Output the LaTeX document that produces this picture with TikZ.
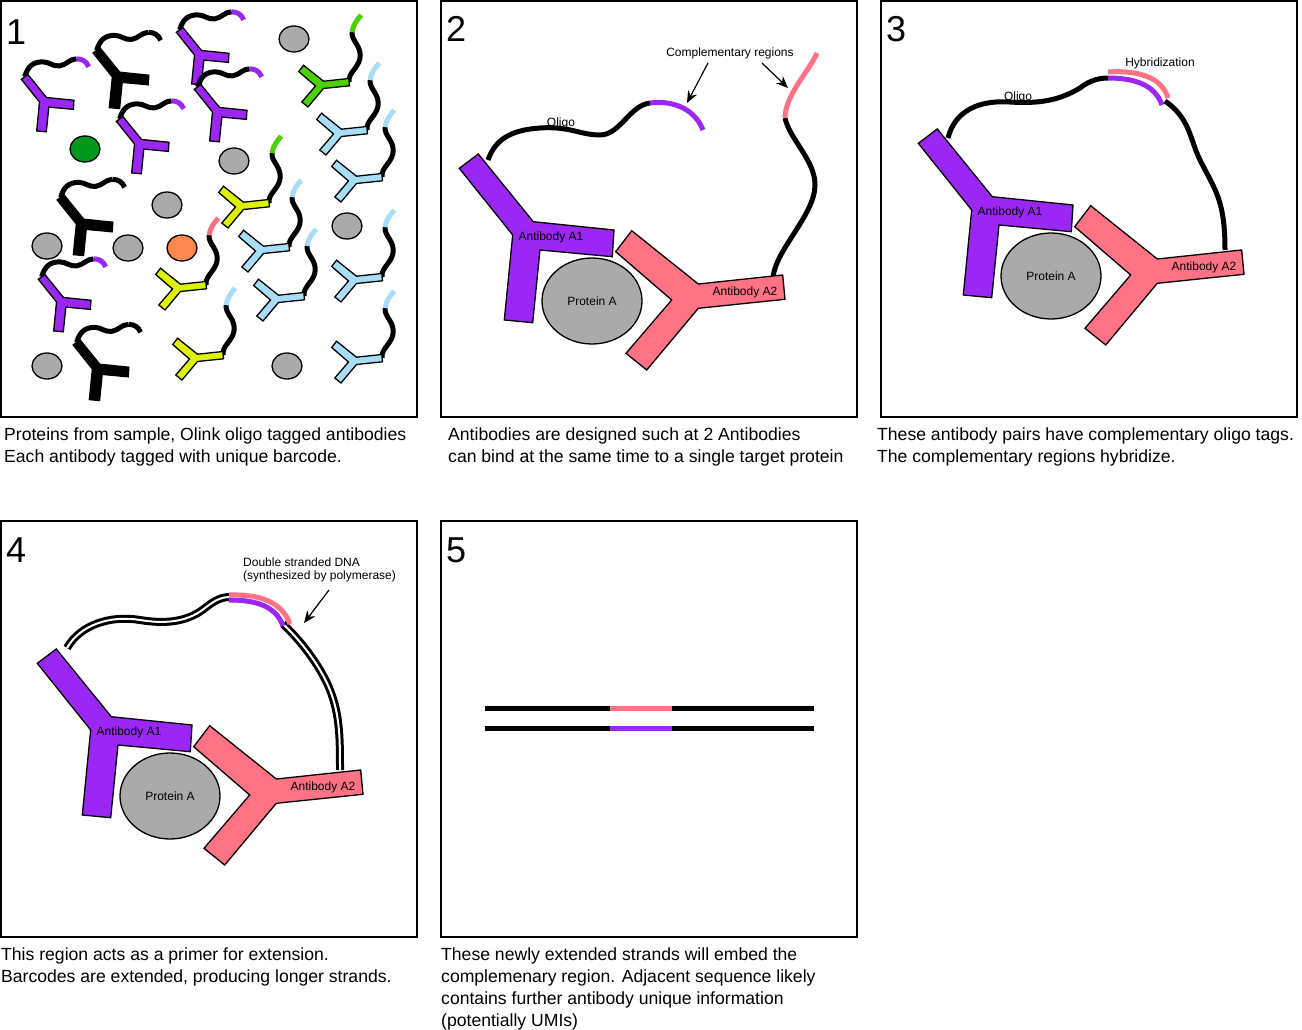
\documentclass[tikz,border=0pt]{standalone}
\usepackage{fontspec}
\setmainfont{Liberation Sans}
\usetikzlibrary{arrows.meta,shapes.geometric}
\definecolor{pur}{HTML}{9B27F5}
\definecolor{pnk}{HTML}{FF7385}
\definecolor{gry}{HTML}{AAAAAA}
\definecolor{gprot}{HTML}{00991E}
\definecolor{oprot}{HTML}{FF8850}
\definecolor{gab}{HTML}{4CD000}
\definecolor{yab}{HTML}{DDF200}
\definecolor{bab}{HTML}{A8DDF8}
\tikzset{
 ab/.style={draw=black,line width=1.3pt,line join=miter},
 oligo/.style={line width=5pt,line cap=butt},
 prot/.style={draw=black,line width=1.3pt,fill=gry},
 panel/.style={draw=black,line width=1.2pt},
 captxt/.style={anchor=base west,font=\fontsize{17.6}{19}\selectfont,inner sep=0pt},
 num/.style={anchor=base west,font=\fontsize{36}{40}\selectfont,inner sep=0pt},
 lbl/.style={font=\fontsize{12}{13}\selectfont,inner sep=0pt},
 arr/.style={-{Stealth[length=12pt,width=10pt]},line width=1.2pt}
}
\newcommand\abA[5]{%
 \begin{scope}[shift={(#1,#2)}]
  \begin{scope}[shift={(-51*#3,-74*#3)}]
   \draw[oligo] (0,0) .. controls (3,-10) and (8,-15) .. (18,-15) .. controls (25,-15) and (28,-10) .. (35,-11) .. controls (42,-12) and (45,-18) .. (52,-18);
   \draw[oligo,draw=#5] (52,-18) .. controls (58,-18) and (62,-15) .. (64,-10);
  \end{scope}
  \filldraw[ab,fill=#4,scale=#3] (-60.7,-66.7) -- (-41.7,-81) -- (13.3,-13.3) -- (94,-5) -- (92.3,21.7) -- (20,15) -- (12.7,87.7) -- (-15.7,85) -- (-7.3,0) -- cycle;
 \end{scope}}
\newcommand\abB[5]{%
 \begin{scope}[shift={(#1,#2)}]
  \begin{scope}[shift={(104*#3,-3*#3)}]
   \draw[oligo] (0,0) .. controls (-2,-10) and (12,-15) .. (11,-28) .. controls (10,-38) and (2,-42) .. (3,-50);
   \draw[oligo,draw=#5] (3,-50) .. controls (4,-58) and (8,-62) .. (12,-67);
  \end{scope}
  \filldraw[ab,fill=#4,scale=#3] (-64.3,-38.3) -- (-48.3,-59.3) -- (18.3,-6) -- (102.7,-15) -- (105,9.3) -- (18.3,18.3) -- (-33.3,80) -- (-54,63.3) -- (-8.3,10) -- cycle;
 \end{scope}}
\newcommand\bigA[2]{\filldraw[ab,fill=pur,shift={(#1,#2)}] (-60.7,-66.7) -- (-41.7,-81) -- (13.3,-13.3) -- (94,-5) -- (92.3,21.7) -- (20,15) -- (12.7,87.7) -- (-15.7,85) -- (-7.3,0) -- cycle;}
\newcommand\bigB[2]{\filldraw[ab,fill=pnk,shift={(#1,#2)}] (-64.3,-38.3) -- (-48.3,-59.3) -- (18.3,-6) -- (102.7,-15) -- (105,9.3) -- (18.3,18.3) -- (-33.3,80) -- (-54,63.3) -- (-8.3,10) -- cycle;}
\begin{document}
\begin{tikzpicture}[x=1pt,y=-1pt]
\useasboundingbox (0,0) rectangle (1302,1030);
\fill[white] (0,0) rectangle (1302,1030);
% panels
\draw[panel] (1,1) rectangle (417,417);
\draw[panel] (441,1) rectangle (857,417);
\draw[panel] (881,1) rectangle (1297,417);
\draw[panel] (1,521) rectangle (417,937);
\draw[panel] (441,521) rectangle (857,937);
\node[num] (n1) at (6,45) {1};
\node[num] (n2) at (446,42) {2};
\node[num] (n3) at (886,42) {3};
\node[num] (n4) at (6,562) {4};
\node[num] (n5) at (446,562) {5};
% ---------- panel 1
\foreach \x/\y in {294/39,234/161,167/205,347/226,47/246,128/248,47/366,287/366}
  \draw[prot] (\x,\y) ellipse (15 and 13);
\draw[prot,fill=gprot] (85,149) ellipse (15 and 13);
\draw[prot,fill=oprot] (182,248) ellipse (15 and 13);
\abA{42}{102}{0.34}{pur}{pur}
\abA{115}{77}{0.36}{black}{black}
\abA{197}{55}{0.34}{pur}{pur}
\abA{215}{112}{0.34}{pur}{pur}
\abA{137}{144}{0.34}{pur}{pur}
\abA{79}{224}{0.36}{black}{black}
\abA{59}{302}{0.34}{pur}{pur}
\abA{95}{369}{0.36}{black}{black}
\abB{318}{83}{0.3}{gab}{gab}
\abB{336}{131}{0.3}{bab}{bab}
\abB{238}{204}{0.3}{yab}{gab}
\abB{351}{178}{0.3}{bab}{bab}
\abB{258}{248}{0.3}{bab}{bab}
\abB{175}{286}{0.3}{yab}{pnk}
\abB{351}{278}{0.3}{bab}{bab}
\abB{273}{297}{0.3}{bab}{bab}
\abB{192}{356}{0.3}{yab}{bab}
\abB{351}{359}{0.3}{bab}{bab}
% ---------- panel 2
\draw[oligo] (488,160) .. controls (495,140) and (510,130) .. (540,128) .. controls (570,126) and (580,135) .. (600,135) .. controls (620,135) and (630,105) .. (650,103);
\draw[oligo,pur] (650,103) .. controls (675,100) and (695,110) .. (703,130);
\draw[oligo] (773,278) .. controls (775,250) and (815,215) .. (815,185) .. controls (815,160) and (790,140) .. (785,118);
\draw[oligo,pnk] (785,118) .. controls (785,95) and (810,70) .. (817,53);
\bigA{520}{235}\bigB{680}{290}
\node[prot,ellipse,minimum width=100pt,minimum height=86pt,lbl] (p2) at (592,301) {Protein A};
\node[lbl] (a21) at (551,237) {Antibody A1};
\node[lbl] (a22) at (745,292) {Antibody A2};
\node[lbl] (o2) at (561,123) {Oligo};
\node[lbl] (c2) at (730,53) {Complementary regions};
\coordinate (t2a) at (687,103); \coordinate (t2b) at (788,88);
\draw[arr] (708,63) -- (t2a);
\draw[arr] (762,63) -- (t2b);
% ---------- panel 3
\draw[oligo] (948,138) .. controls (955,110) and (980,100) .. (1010,102) .. controls (1040,104) and (1060,100) .. (1080,88) .. controls (1090,80) and (1100,78) .. (1108,78);
\draw[oligo,pur] (1108,78) .. controls (1135,78) and (1155,85) .. (1162,105);
\draw[oligo,pnk] (1108,72) .. controls (1140,70) and (1162,78) .. (1168,98);
\draw[oligo] (1165,101) .. controls (1190,118) and (1190,140) .. (1200,160) .. controls (1215,190) and (1225,200) .. (1225,250);
\bigA{979}{210}\bigB{1139}{265}
\node[prot,ellipse,minimum width=100pt,minimum height=86pt,lbl] (p3) at (1051,276) {Protein A};
\node[lbl] (a31) at (1010,212) {Antibody A1};
\node[lbl] (a32) at (1204,267) {Antibody A2};
\node[lbl] (o3) at (1018,97) {Oligo};
\node[lbl] (h3) at (1160,63) {Hybridization};
% ---------- panel 4
\draw[line width=8pt] (67,648) .. controls (80,625) and (110,615) .. (140,620) .. controls (170,625) and (190,620) .. (205,608) .. controls (215,600) and (222,597) .. (230,597);
\draw[line width=2pt,white] (67,648) .. controls (80,625) and (110,615) .. (140,620) .. controls (170,625) and (190,620) .. (205,608) .. controls (215,600) and (222,597) .. (230,597);
\draw[line width=8pt] (283,624) .. controls (300,640) and (320,665) .. (330,690) .. controls (340,715) and (340,740) .. (340,770);
\draw[line width=2pt,white] (283,624) .. controls (300,640) and (320,665) .. (330,690) .. controls (340,715) and (340,740) .. (340,770);
\draw[oligo,pnk] (229,595) .. controls (260,594) and (282,602) .. (290,624);
\draw[oligo,pur] (229,600) .. controls (256,600) and (276,606) .. (283,626);
\bigA{98}{730}\bigB{258}{785}
\node[prot,ellipse,minimum width=100pt,minimum height=86pt,lbl] (p4) at (170,796) {Protein A};
\node[lbl] (a41) at (129,732) {Antibody A1};
\node[lbl] (a42) at (323,787) {Antibody A2};
\node[lbl,anchor=north west,align=left] (d4) at (243,558) {Double stranded DNA\\(synthesized by polymerase)};
\coordinate (t4) at (304,623);
\draw[arr] (329,590) -- (t4);
% ---------- panel 5
\draw[line width=5pt] (485,708) -- (610,708);
\draw[line width=5pt,pnk] (610,708) -- (672,708);
\draw[line width=5pt] (672,708) -- (814,708);
\draw[line width=5pt] (485,728) -- (610,728);
\draw[line width=5pt,pur] (610,728) -- (672,728);
\draw[line width=5pt] (672,728) -- (814,728);
% captions
\node[captxt] (c1a) at (4,440) {Proteins from sample, Olink oligo tagged antibodies};
\node[captxt] (c1b) at (4,462) {Each antibody tagged with unique barcode.};
\node[captxt] (c2a) at (448,440) {Antibodies are designed such at 2 Antibodies};
\node[captxt] (c2b) at (448,462) {can bind at the same time to a single target protein};
\node[captxt] (c3a) at (877,440) {These antibody pairs have complementary oligo tags.};
\node[captxt] (c3b) at (877,462) {The complementary regions hybridize.};
\node[captxt] (c4a) at (1,960) {This region acts as a primer for extension.};
\node[captxt] (c4b) at (1,982) {Barcodes are extended, producing longer strands.};
\node[captxt] (c5a) at (441,960) {These newly extended strands will embed the};
\node[captxt] (c5b) at (441,982) {complemenary region. Adjacent sequence likely};
\node[captxt] (c5c) at (441,1004) {contains further antibody unique information};
\node[captxt] (c5d) at (441,1026) {(potentially UMIs)};
\end{tikzpicture}
\end{document}
